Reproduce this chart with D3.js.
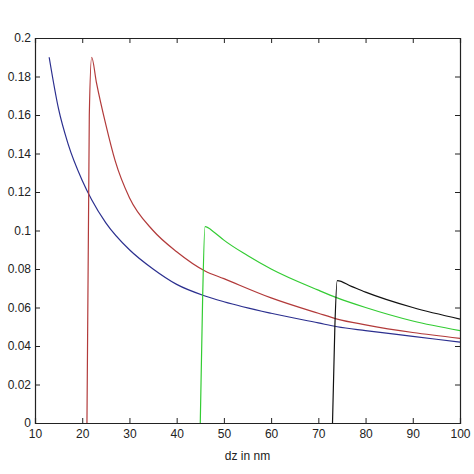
<!DOCTYPE html>
<html><head><meta charset="utf-8">
<script src="https://cdn.jsdelivr.net/npm/d3@7"></script>
<style>body{margin:0;background:#fff}text{font-family:"Liberation Sans",Arial,sans-serif;font-size:12px;fill:#222}</style>
</head><body><svg id="c" width="474" height="474"></svg>
<script>
// values
var blueX = [13, 15, 17, 20, 22, 25, 30, 35, 40, 46, 50, 60, 70, 74, 80, 90, 100];
var blueY = [0.19, 0.163, 0.145, 0.126, 0.116, 0.104, 0.09, 0.08, 0.072, 0.066, 0.063, 0.057, 0.052, 0.05, 0.048, 0.045, 0.042];
var redX = [21, 21.5, 22, 23, 25, 27, 30, 35, 40, 46, 50, 60, 70, 74, 80, 90, 100];
var redY = [0, 0.16, 0.19, 0.177, 0.155, 0.136, 0.117, 0.1, 0.089, 0.079, 0.075, 0.065, 0.057, 0.054, 0.051, 0.047, 0.044];
var greenX = [45, 45.5, 46, 48, 50, 55, 60, 70, 74, 80, 90, 100];
var greenY = [0, 0.065, 0.102, 0.099, 0.095, 0.087, 0.08, 0.069, 0.065, 0.06, 0.053, 0.048];
var blackX = [73, 73.5, 74, 77, 80, 90, 100];
var blackY = [0, 0.05, 0.074, 0.071, 0.068, 0.06, 0.054];
var xTicks = [10, 20, 30, 40, 50, 60, 70, 80, 90, 100];
var yTicks = [0, 0.02, 0.04, 0.06, 0.08, 0.1, 0.12, 0.14, 0.16, 0.18, 0.2];

var L = 35, R = 460, T = 38, B = 423;
var svg = d3.select("#c");
var x = d3.scaleLinear().domain([10, 100]).range([L, R]);
var y = d3.scaleLinear().domain([0, 0.2]).range([B, T]);

var series = [[blueX, blueY, "#2b2f8f"], [redX, redY, "#b23a3a"], [greenX, greenY, "#33cc33"], [blackX, blackY, "#111"]];
var line = d3.line().curve(d3.curveMonotoneX).x(function(d){return x(d[0]);}).y(function(d){return y(d[1]);});
series.forEach(function(s) {
  svg.append("path").datum(d3.zip(s[0], s[1])).attr("d", line)
    .attr("fill", "none").attr("stroke", s[2]).attr("stroke-width", 1.2);
});

function fmt(d){ return d === 0 ? "0" : String(+d.toFixed(2)); }
var ax = [
  [d3.axisBottom(x).tickValues(xTicks).tickSize(-5).tickPadding(6), B, 0, true],
  [d3.axisTop(x).tickValues(xTicks).tickSize(-5).tickFormat(""), T, 0, false],
  [d3.axisLeft(y).tickValues(yTicks).tickSize(-5).tickPadding(4).tickFormat(fmt), 0, L, true],
  [d3.axisRight(y).tickValues(yTicks).tickSize(-5).tickFormat(""), 0, R, false]
];
ax.forEach(function(a) {
  var g = svg.append("g").attr("transform", "translate(" + a[2] + "," + a[1] + ")").call(a[0]);
  g.select(".domain").attr("stroke", "#222").attr("stroke-width", 1.2);
  g.selectAll(".tick line").attr("stroke", "#222");
  g.selectAll("text").style("font-size", "12px").attr("fill", "#222");
});
svg.append("text").attr("x", (L + R) / 2).attr("y", 460).attr("text-anchor", "middle").text("dz in nm");
</script></body></html>
